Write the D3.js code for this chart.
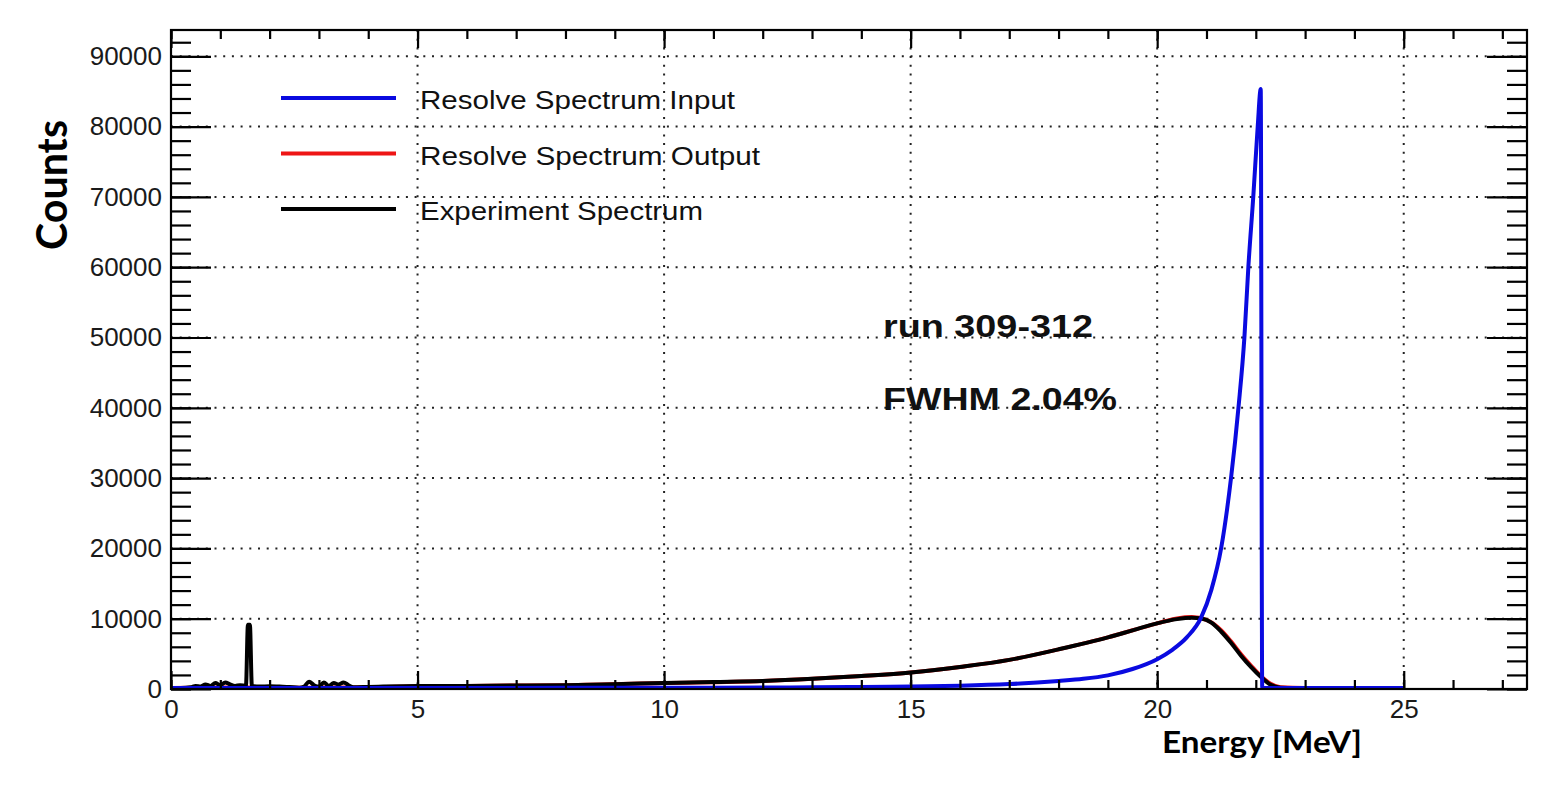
<!DOCTYPE html>
<html>
<head>
<meta charset="utf-8">
<script src="https://cdn.jsdelivr.net/npm/d3@7"></script>
<style>
  body { margin: 0; background: #fff; }
  .tick text { font-family: "Liberation Sans", Arial, sans-serif; font-size: 26px; fill: #1a1a1a; }
  .axis .domain { display: none; }
  .axis line { stroke: #000; stroke-width: 2.2; }
  .grid line { stroke: #222; stroke-width: 2; stroke-dasharray: 2 6.7; }
  .series { fill: none; stroke-linejoin: round; }
</style>
</head>
<body>
<script>
// Resolve Spectrum Input (blue)
const inputEnergy = [0, 2, 4, 6, 8, 10, 12, 13, 14, 15, 16, 17, 18, 18.5, 19, 19.5, 20, 20.3, 20.6, 20.89,
  21.1, 21.3, 21.5, 21.65, 21.77, 21.85, 21.95, 22.04, 22.1, 22.13, 22.5, 25];
const inputCounts = [0, 0, 0, 10, 20, 40, 70, 100, 150, 220, 330, 560, 1000, 1300, 1800, 2700, 4100, 5400, 7200, 10000,
  14000, 20000, 30000, 40000, 50000, 60000, 70000, 80000, 85200, 0, 0, 0];

// Resolve Spectrum Output (red)
const outputEnergy = [0, 0.5, 1, 1.5, 2, 2.5, 3, 3.5, 4, 5, 6, 7, 8, 10, 12, 14, 15, 16, 17, 18, 19, 20,
  20.4, 20.7, 21.0, 21.3, 21.5, 21.7, 21.9, 22.1, 22.3, 22.5, 23, 24, 25];
const outputCounts = [0, 30, 60, 80, 60, 40, 60, 80, 100, 250, 300, 350, 400, 700, 1000, 1700, 2200, 3000, 4000, 5500, 7200, 9200,
  9900, 10100, 9700, 8200, 6600, 4800, 3200, 1700, 600, 100, 0, 0, 0];

// Experiment Spectrum (black)
const expEnergy = [0, 0.2, 0.4, 0.5, 0.6, 0.7, 0.8, 0.9, 1.0, 1.1, 1.2, 1.3, 1.4, 1.52, 1.56, 1.6, 1.64, 1.8,
  2.0, 2.2, 2.4, 2.6, 2.7, 2.8, 2.9, 3.0, 3.1, 3.2, 3.3, 3.4, 3.5, 3.6, 3.7, 4.0, 5, 6, 7, 8, 9, 10, 11, 12,
  13, 14, 15, 16, 17, 18, 19, 19.5, 20, 20.4, 20.7, 20.9, 21.1, 21.3, 21.5, 21.7, 21.9, 22.1, 22.3, 22.5,
  22.8, 23.5, 24.3, 25];
const expCounts = [0, 0, 100, 300, 200, 500, 300, 700, 400, 800, 500, 300, 400, 300, 9000, 9000, 300, 200,
  250, 200, 150, 50, 200, 900, 400, 200, 800, 300, 700, 500, 800, 400, 100, 150, 300, 300, 350, 400, 550, 700, 850, 1000,
  1300, 1700, 2200, 3000, 4000, 5500, 7200, 8200, 9200, 9800, 10000, 9900, 9300, 8000, 6400, 4600, 3000, 1600, 450, 50,
  0, 0, 0, 0];

const seriesNames = ["Resolve Spectrum Input", "Resolve Spectrum Output", "Experiment Spectrum"];
const annotations = ["run 309-312", "FWHM 2.04%"];

const xTicks = [0, 5, 10, 15, 20, 25];
const yTicks = [0, 10000, 20000, 30000, 40000, 50000, 60000, 70000, 80000, 90000];

const margin = { top: 30, right: 29, bottom: 99, left: 171 },
  width = 1556 - margin.left - margin.right,
  height = 788 - margin.top - margin.bottom;

const color = d3.scaleOrdinal().domain(seriesNames).range(["#0a0ae0", "#ee1515", "#000000"]);

const x = d3.scaleLinear().domain([0, 27.5]).range([0, width]);
const y = d3.scaleLinear().domain([0, 93740]).range([height, 0]);

const svg = d3
  .select("body")
  .append("svg")
  .attr("width", width + margin.left + margin.right)
  .attr("height", height + margin.top + margin.bottom)
  .append("g")
  .attr("transform", `translate(${margin.left}, ${margin.top})`);

// a little slack at the bottom so zero-level lines sit on the axis like ROOT draws them
svg.append("defs").append("clipPath").attr("id", "plot-clip")
  .append("rect").attr("y", -2).attr("width", width).attr("height", height + 2);

// dotted grid
svg.append("g").attr("class", "grid")
  .selectAll("line").data(xTicks.filter(d => d > 0)).enter().append("line")
  .attr("x1", d => x(d)).attr("x2", d => x(d)).attr("y1", 0).attr("y2", height);
svg.append("g").attr("class", "grid")
  .selectAll("line").data(yTicks.filter(d => d > 0)).enter().append("line")
  .attr("y1", d => y(d)).attr("y2", d => y(d)).attr("x1", 0).attr("x2", width);

// spectra
const line = d3.line()
  .x(d => x(d[0]))
  .y(d => y(d[1]) - 1)
  .curve(d3.curveMonotoneX);
const plot = svg.append("g").attr("clip-path", "url(#plot-clip)");

plot.append("path")
  .datum(d3.zip(outputEnergy, outputCounts))
  .attr("class", "series")
  .attr("stroke", color(seriesNames[1]))
  .attr("stroke-width", 4)
  .attr("d", line);

plot.append("path")
  .datum(d3.zip(expEnergy, expCounts))
  .attr("class", "series")
  .attr("stroke", color(seriesNames[2]))
  .attr("stroke-width", 4)
  .attr("d", line);

plot.append("path")
  .datum(d3.zip(inputEnergy, inputCounts))
  .attr("class", "series")
  .attr("stroke", color(seriesNames[0]))
  .attr("stroke-width", 4)
  .attr("d", line);

// axes: major + minor ticks on all four sides
const xMinor = d3.range(0, 28, 1);
const yMinor = d3.range(0, 94000, 2000);

svg.append("g").attr("class", "axis")
  .attr("transform", `translate(0,${height})`)
  .call(d3.axisBottom(x).tickValues(xMinor).tickSizeInner(-9).tickSizeOuter(0).tickFormat(""));
svg.append("g").attr("class", "axis")
  .attr("transform", `translate(0,${height})`)
  .call(d3.axisBottom(x).tickValues(xTicks).tickSizeInner(-18).tickSizeOuter(0).tickPadding(11).tickFormat(d3.format("d")));

svg.append("g").attr("class", "axis")
  .call(d3.axisTop(x).tickValues(xMinor).tickSizeInner(-9).tickSizeOuter(0).tickFormat(""));
svg.append("g").attr("class", "axis")
  .call(d3.axisTop(x).tickValues(xTicks).tickSizeInner(-18).tickSizeOuter(0).tickFormat(""));

svg.append("g").attr("class", "axis")
  .call(d3.axisLeft(y).tickValues(yMinor).tickSizeInner(-20).tickSizeOuter(0).tickFormat(""));
svg.append("g").attr("class", "axis")
  .call(d3.axisLeft(y).tickValues(yTicks).tickSizeInner(-40).tickSizeOuter(0).tickPadding(9).tickFormat(d3.format("d")));

svg.append("g").attr("class", "axis")
  .attr("transform", `translate(${width},0)`)
  .call(d3.axisRight(y).tickValues(yMinor).tickSizeInner(-20).tickSizeOuter(0).tickFormat(""));
svg.append("g").attr("class", "axis")
  .attr("transform", `translate(${width},0)`)
  .call(d3.axisRight(y).tickValues(yTicks).tickSizeInner(-40).tickSizeOuter(0).tickFormat(""));

svg.append("rect")
  .attr("width", width)
  .attr("height", height)
  .attr("fill", "none")
  .attr("stroke", "#000")
  .attr("stroke-width", 2.2);

// axis titles
svg.append("text")
  .attr("transform", "rotate(-90)")
  .attr("x", -155)
  .attr("y", -104)
  .attr("text-anchor", "middle")
  .attr("textLength", 130)
  .attr("lengthAdjust", "spacingAndGlyphs")
  .style("font-family", "Lato, 'Open Sans', sans-serif")
  .style("font-weight", "bold")
  .style("font-size", "42px")
  .style("fill", "#000")
  .text("Counts");

svg.append("text")
  .attr("x", 1162 - margin.left)
  .attr("y", 753 - margin.top)
  .attr("textLength", 200)
  .attr("lengthAdjust", "spacingAndGlyphs")
  .style("font-family", "Lato, 'Open Sans', sans-serif")
  .style("font-weight", "bold")
  .style("font-size", "30px")
  .style("fill", "#000")
  .text("Energy [MeV]");

// legend
const legendLengths = [315, 340, 283];
const legend = svg.selectAll(".legend")
  .data(seriesNames)
  .enter()
  .append("g")
  .attr("class", "legend")
  .attr("transform", (d, i) => `translate(0, ${68 + i * 55.5})`);

legend.append("line")
  .attr("x1", 281 - margin.left)
  .attr("x2", 396 - margin.left)
  .attr("stroke", color)
  .attr("stroke-width", 4);

legend.append("text")
  .attr("x", 420 - margin.left)
  .attr("y", 11)
  .attr("textLength", (d, i) => legendLengths[i])
  .attr("lengthAdjust", "spacingAndGlyphs")
  .style("font-family", "'Liberation Sans', Arial, sans-serif")
  .style("font-size", "25px")
  .style("fill", "#111")
  .text(d => d);

// run info
const noteLengths = [210, 234];
svg.selectAll(".note")
  .data(annotations)
  .enter()
  .append("text")
  .attr("class", "note")
  .attr("x", 883 - margin.left)
  .attr("y", (d, i) => 307 + i * 73)
  .attr("textLength", (d, i) => noteLengths[i])
  .attr("lengthAdjust", "spacingAndGlyphs")
  .style("font-family", "'Liberation Sans', Arial, sans-serif")
  .style("font-weight", "bold")
  .style("font-size", "31px")
  .style("fill", "#111")
  .text(d => d);
</script>
</body>
</html>
